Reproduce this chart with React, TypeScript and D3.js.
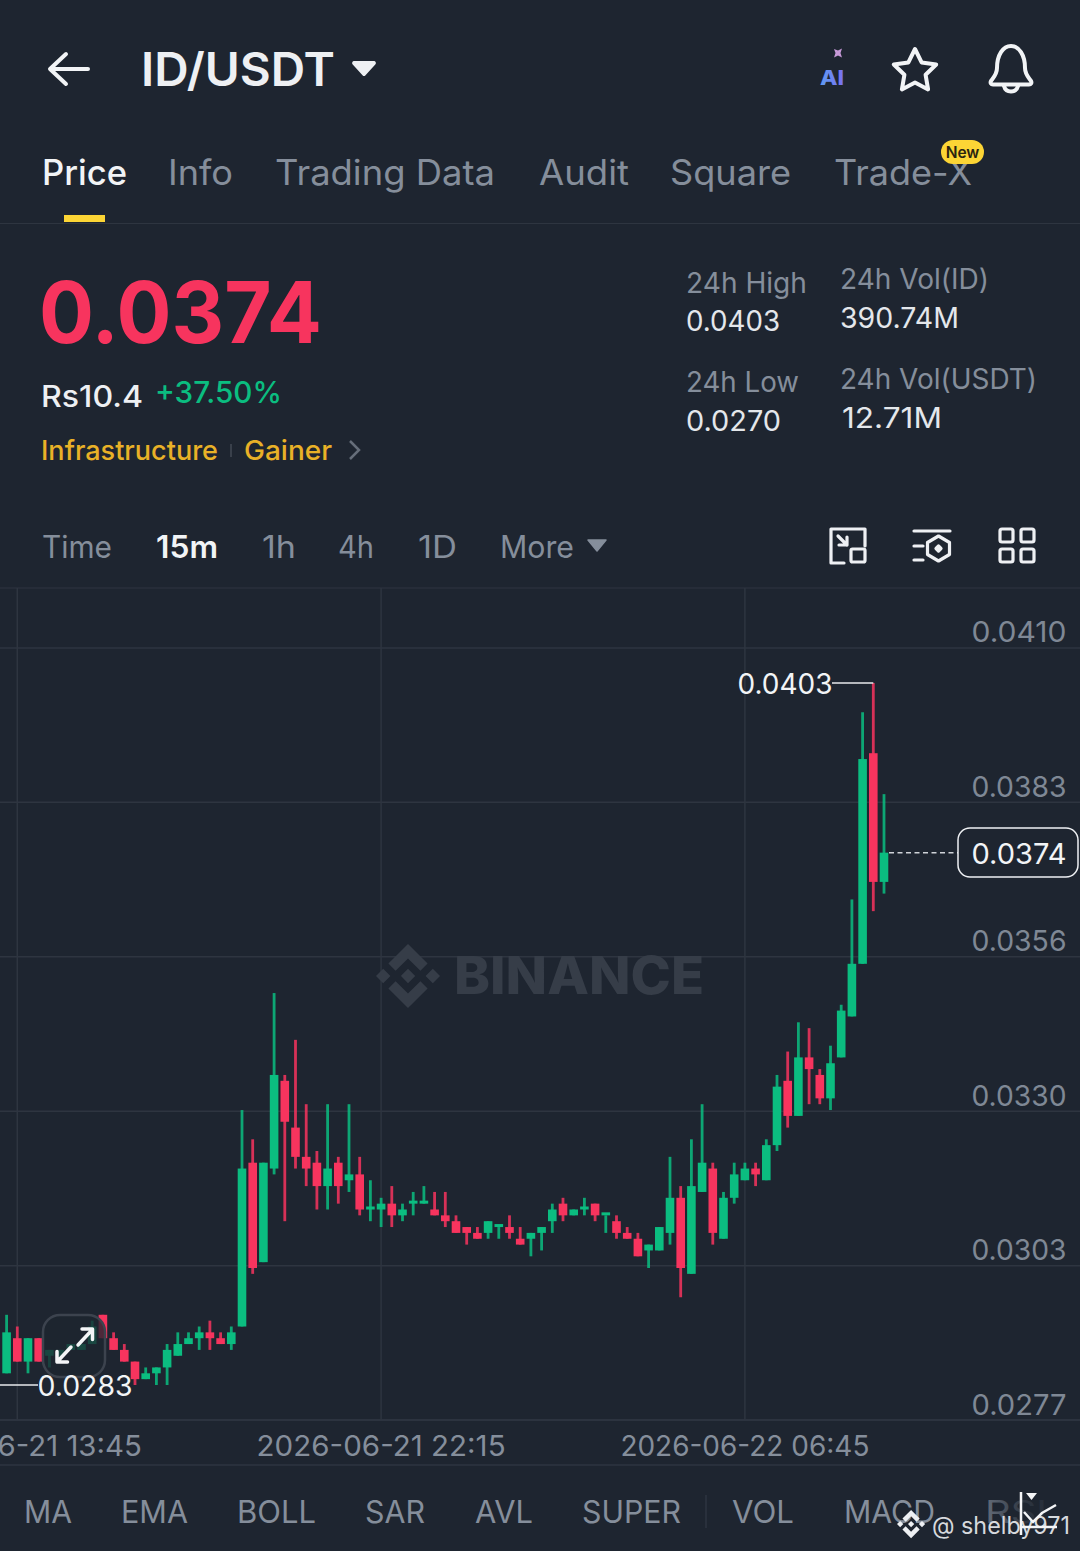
import * as d3 from "d3";

// 15m candles, oldest first. Every price reads to four decimals on the chart
const opens = [
  0.0285, 0.0291, 0.0287, 0.0291, 0.0288, 0.0288, 0.0289, 0.0289, 0.029, 0.0295, 0.0291, 0.0289, 0.0287, 0.0284,
  0.0285, 0.0286, 0.0288, 0.029, 0.0291, 0.0292, 0.0291, 0.029, 0.0293, 0.0321, 0.0304, 0.032, 0.0335, 0.0327,
  0.0322, 0.0321, 0.0317, 0.0321, 0.0318, 0.0319, 0.0313, 0.0313, 0.0314, 0.0312, 0.0314, 0.0314, 0.0313, 0.0312,
  0.0311, 0.031, 0.0309, 0.0309, 0.031, 0.031, 0.0308, 0.0308, 0.0309, 0.0311, 0.0314, 0.0312, 0.0313, 0.0314,
  0.0312, 0.0311, 0.0309, 0.0308, 0.0306, 0.0306, 0.0309, 0.0315, 0.0302, 0.0316, 0.032, 0.0308, 0.0315, 0.0318,
  0.032, 0.0318, 0.0324, 0.0335, 0.0329, 0.0339, 0.0336, 0.0332, 0.0339, 0.0346, 0.0355, 0.0391, 0.0369,
];
const highs = [
  0.0295, 0.0293, 0.0291, 0.0291, 0.0289, 0.0289, 0.029, 0.029, 0.0294, 0.0295, 0.0292, 0.029, 0.0287, 0.0286,
  0.0286, 0.029, 0.0292, 0.0292, 0.0293, 0.0294, 0.0292, 0.0293, 0.033, 0.0325, 0.0321, 0.035, 0.0336, 0.0342,
  0.0331, 0.0323, 0.0331, 0.0322, 0.0331, 0.0322, 0.0318, 0.0315, 0.0317, 0.0314, 0.0316, 0.0317, 0.0316, 0.0316,
  0.0312, 0.031, 0.031, 0.0311, 0.031, 0.0312, 0.031, 0.0309, 0.031, 0.0314, 0.0315, 0.0313, 0.0315, 0.0314,
  0.0312, 0.0312, 0.031, 0.0309, 0.0307, 0.031, 0.0322, 0.0317, 0.0325, 0.0331, 0.0321, 0.0316, 0.0321, 0.0321,
  0.0321, 0.0325, 0.0336, 0.034, 0.0345, 0.0344, 0.0337, 0.0341, 0.0348, 0.0366, 0.0398, 0.0403, 0.0384,
];
const lows = [
  0.0285, 0.0287, 0.0285, 0.0287, 0.0286, 0.0287, 0.0289, 0.0289, 0.029, 0.0291, 0.0289, 0.0287, 0.0283, 0.0284,
  0.0283, 0.0283, 0.0288, 0.029, 0.0289, 0.0289, 0.029, 0.0289, 0.0293, 0.0302, 0.0304, 0.0319, 0.0311, 0.032,
  0.0317, 0.0313, 0.0313, 0.0314, 0.0316, 0.0312, 0.0311, 0.031, 0.031, 0.0311, 0.0312, 0.0314, 0.0312, 0.031,
  0.0309, 0.0307, 0.0308, 0.0308, 0.0308, 0.0308, 0.0307, 0.0305, 0.0306, 0.0309, 0.0311, 0.0312, 0.0312, 0.0311,
  0.0309, 0.0308, 0.0308, 0.0305, 0.0303, 0.0306, 0.0307, 0.0298, 0.0302, 0.0316, 0.0307, 0.0308, 0.0314, 0.0318,
  0.0317, 0.0318, 0.0323, 0.0327, 0.0329, 0.0331, 0.0331, 0.033, 0.0339, 0.0346, 0.0355, 0.0364, 0.0367,
];
const closes = [
  0.0292, 0.0287, 0.0291, 0.0287, 0.0289, 0.0289, 0.029, 0.029, 0.0293, 0.0291, 0.0289, 0.0287, 0.0284, 0.0285,
  0.0286, 0.0289, 0.029, 0.0291, 0.0292, 0.0291, 0.029, 0.0292, 0.032, 0.0303, 0.0321, 0.0336, 0.0328, 0.0322,
  0.032, 0.0317, 0.032, 0.0317, 0.0319, 0.0313, 0.0313, 0.0314, 0.0312, 0.0313, 0.0314, 0.0314, 0.0312, 0.0311,
  0.0309, 0.0309, 0.0308, 0.0311, 0.031, 0.0309, 0.0307, 0.0309, 0.031, 0.0313, 0.0312, 0.0313, 0.0313, 0.0312,
  0.0312, 0.0309, 0.0308, 0.0305, 0.0307, 0.031, 0.0315, 0.0303, 0.0317, 0.0321, 0.0309, 0.0315, 0.0319, 0.032,
  0.0319, 0.0324, 0.0334, 0.0329, 0.0339, 0.0337, 0.0332, 0.0338, 0.0347, 0.0355, 0.039, 0.0369, 0.0374,
];

const priceTicks = [0.0277, 0.03034, 0.03298, 0.03562, 0.03826, 0.0409];
const priceLabels = ["0.0277", "0.0303", "0.0330", "0.0356", "0.0383", "0.0410"];
const timeIndexes = [1, 35, 69];
const timeLabels = ["2026-06-21 13:45", "2026-06-21 22:15", "2026-06-22 06:45"];

const tabs = ["Price", "Info", "Trading Data", "Audit", "Square", "Trade-X"];
const intervals = ["Time", "15m", "1h", "4h", "1D", "More"];
const indicators = ["MA", "EMA", "BOLL", "SAR", "AVL", "SUPER", "VOL", "MACD", "RSI"];

// layout of the text rows, [left, width]
const tabBoxes = [[42, 85], [168, 65], [275, 220], [539, 90], [670, 121], [834, 138]];
const intervalBoxes = [[42, 70], [156, 62], [262, 34], [338, 36], [418, 39], [500, 74]];
const indicatorBoxes = [[24, 48], [121, 67], [237, 79], [365, 60], [475, 58], [582, 99], [732, 62], [844, 91], [985, 62]];

const lastPrice = 0.0374;
const highMark = 0.0403;
const lowMark = 0.0283;

const BG = "#1e2530";
const GRID = "#2e3540";
const GRAY = "#858e9b";
const AXIS = "#7f8895";
const GREEN = "#0bbd80";
const RED = "#f7345e";
const YELLOW = "#fcd535";
const FONT = "Inter, 'Noto Sans', sans-serif";

const CHART_TOP = 588;
const CHART_BOTTOM = 1420;

const LOGO =
  "M9.8 13.4 16 7.2l6.2 6.2 3.6-3.6L16 0 6.2 9.8zM0 16l3.6-3.6L7.2 16l-3.6 3.6zM9.8 18.6 16 24.8l6.2-6.2 3.6 3.6L16 32l-9.8-9.8zM24.8 16l3.6-3.6L32 16l-3.6 3.6zM19.6 16 16 12.4 13.4 15l-.3.3-.6.7L16 19.6z";

const x = d3.scaleLinear().domain([0, 82]).range([6.6, 884]);
const y = d3.scaleLinear().domain([0.0283, 0.0403]).range([1385, 683]);

const BODY_W = 8.6;
const WICK_W = 2.8;

function Candles() {
  return (
    <g>
      {opens.map((open, i) => {
        const close = closes[i];
        const up = close >= open;
        const color = up ? GREEN : RED;
        const yTop = y(Math.max(open, close));
        const yBot = y(Math.min(open, close));
        const h = Math.max(yBot - yTop, 3);
        return (
          <g key={i} fill={color}>
            <rect x={x(i) - WICK_W / 2} y={y(highs[i])} width={WICK_W} height={y(lows[i]) - y(highs[i])} opacity={0.85} />
            <rect x={x(i) - BODY_W / 2} y={yBot - h} width={BODY_W} height={h} />
          </g>
        );
      })}
    </g>
  );
}

function Txt({ x, y, size, fill, weight, anchor, children, width, opacity }: any) {
  return (
    <text
      x={x}
      y={y}
      fontSize={size}
      fill={fill}
      fillOpacity={opacity}
      fontWeight={weight ?? 400}
      textAnchor={anchor ?? "start"}
      textLength={width}
      lengthAdjust={width ? "spacingAndGlyphs" : undefined}
    >
      {children}
    </text>
  );
}

function Header() {
  return (
    <g>
      <defs>
        <linearGradient id="aiFill" x1="0" x2="1" y1="0" y2="0">
          <stop offset="0" stopColor="#5f9bf2" />
          <stop offset="1" stopColor="#7a70ef" />
        </linearGradient>
      </defs>
      <path d="M88 69H51M66 54 50 69l16 15" fill="none" stroke="#f2f4f6" strokeWidth={4} strokeLinecap="round" strokeLinejoin="round" />
      <Txt x={141} y={86} size={46} fill="#eef0f3" weight={600} width={194}>ID/USDT</Txt>
      <path d="M354 61h20a2 2 0 0 1 1.5 3.2l-10 11a2 2 0 0 1-3 0l-10-11A2 2 0 0 1 354 61z" fill="#eef0f3" />
      {/* AI badge */}
      <path d="M834 49l4 1.5 4-2-1.5 4.5 1.5 4.5-4-2-4 2 1.5-4.5z" fill="#c79ad8" />
      <Txt x={820} y={85} size={20} weight={800} fill="url(#aiFill)" width={24}>AI</Txt>
      {/* star */}
      <path
        d="M915 49l6.6 13.4 14.6 2.1-10.6 10.3 2.5 14.6-13.1-6.9-13.1 6.9 2.5-14.6-10.6-10.3 14.6-2.1z"
        fill="none"
        stroke="#f2f4f6"
        strokeWidth={4}
        strokeLinejoin="round"
      />
      {/* bell */}
      <path
        d="M997 68c0-13 6-22 14-22s14 9 14 22c0 6 3 9 6 13 1 2 0 3.500-2 3.500h-36c-2 0-3-1.500-2-3.500 3-4 6-7 6-13z"
        fill="none"
        stroke="#f2f4f6"
        strokeWidth={4}
        strokeLinejoin="round"
      />
      <path d="M1004 86c1 4 3.500 5.500 7 5.500s6-1.500 7-5.500" fill="none" stroke="#f2f4f6" strokeWidth={4} strokeLinecap="round" />
      {tabs.map((t, i) => (
        <Txt
          key={t}
          x={tabBoxes[i][0]}
          y={184.500}
          size={35}
          fill={i === 0 ? "#f2f4f6" : GRAY}
          weight={i === 0 ? 500 : 400}
          width={tabBoxes[i][1]}
        >
          {t}
        </Txt>
      ))}
      <rect x={64} y={215} width={41} height={7} fill={YELLOW} />
      <line x1={0} x2={1080} y1={223.5} y2={223.5} stroke={GRID} />
      <rect x={941} y={140} width={43} height={24} rx={12} fill={YELLOW} />
      <text x={962.5} y={158} fontSize={15.5} fontWeight={600} textAnchor="middle" fill="#2a2410">New</text>
    </g>
  );
}

function Summary() {
  return (
    <g>
      <Txt x={39} y={343} size={85} fill={RED} weight={700} width={283}>0.0374</Txt>
      <Txt x={41} y={407} size={30} fill="#eef0f3" weight={500} width={102}>Rs10.4</Txt>
      <Txt x={155} y={403} size={30} fill={GREEN} weight={500} width={127}>+37.50%</Txt>
      <Txt x={41} y={460} size={27.5} fill="#e9b127" weight={500} width={177}>Infrastructure</Txt>
      <line x1={231} x2={231} y1={444} y2={457} stroke="#39404b" strokeWidth={2} />
      <Txt x={244} y={460} size={27.5} fill="#e9b127" weight={500} width={88}>Gainer</Txt>
      <path d="M350 441l9 9-9 9" fill="none" stroke="#666e7a" strokeWidth={2.5} />
      <Txt x={686} y={293} size={28} fill={GRAY} width={121}>24h High</Txt>
      <Txt x={686} y={331} size={28} fill="#e4e7eb" width={94}>0.0403</Txt>
      <Txt x={840} y={289} size={28} fill={GRAY} width={149}>24h Vol(ID)</Txt>
      <Txt x={840} y={328} size={28} fill="#e4e7eb" width={119}>390.74M</Txt>
      <Txt x={686} y={392} size={28} fill={GRAY} width={113}>24h Low</Txt>
      <Txt x={686} y={431} size={28} fill="#e4e7eb" width={95}>0.0270</Txt>
      <Txt x={840} y={389} size={28} fill={GRAY} width={197}>24h Vol(USDT)</Txt>
      <Txt x={842} y={428} size={28} fill="#e4e7eb" width={100}>12.71M</Txt>
    </g>
  );
}

function Toolbar() {
  return (
    <g>
      {intervals.map((t, i) => (
        <Txt
          key={t}
          x={intervalBoxes[i][0]}
          y={558}
          size={31}
          fill={i === 1 ? "#f2f4f6" : GRAY}
          weight={i === 1 ? 600 : 400}
          width={intervalBoxes[i][1]}
        >
          {t}
        </Txt>
      ))}
      <path d="M588 540h18l-9 11z" fill={GRAY} stroke={GRAY} strokeWidth={1.5} strokeLinejoin="round" />
      <g fill="none" stroke="#eef0f3" strokeWidth={3.2} strokeLinejoin="round" strokeLinecap="round">
        <path d="M844 563h-13v-34h34v17" />
        <rect x={851} y={549} width={14} height={13} rx={1.5} />
        <path d="M838 536l9 9M847 537v8h-8" />
        <path d="M914 531h36M914 546h9M914 560h9" />
        <path d="M938.500 536l11 6.500v12l-11 6.500-11-6.500v-12z" />
        <path d="M938.500 546l2.500 2.500-2.500 2.500-2.500-2.500z" fill="#eef0f3" />
        <rect x={1000} y={529} width={13} height={13} rx={2} />
        <rect x={1021} y={529} width={13} height={13} rx={2} />
        <rect x={1000} y={549} width={13} height={13} rx={2} />
        <rect x={1021} y={549} width={13} height={13} rx={2} />
      </g>
      <line x1={0} x2={1080} y1={CHART_TOP} y2={CHART_TOP} stroke={GRID} />
    </g>
  );
}

function Chart() {
  const lastY = y(lastPrice);
  const highY = y(highMark);
  const lowY = y(lowMark);
  const highIdx = highs.indexOf(highMark);
  return (
    <g>
      {priceTicks.map((p) => (
        <line key={p} x1={0} x2={1080} y1={y(p)} y2={y(p)} stroke={GRID} strokeWidth={1.5} />
      ))}
      {timeIndexes.map((i) => (
        <line key={i} x1={x(i)} x2={x(i)} y1={CHART_TOP} y2={CHART_BOTTOM} stroke={GRID} strokeWidth={1.5} />
      ))}
      {priceLabels.map((l, i) => (
        <Txt key={l} x={971.5} y={y(priceTicks[i]) - 5.5} size={29} fill={AXIS} width={95}>
          {l}
        </Txt>
      ))}
      {/* watermark */}
      <path d={LOGO} transform="translate(376 944) scale(2)" fill="#363d48" />
      <Txt x={454} y={994} size={52} fill="#363d48" weight={800} width={250}>BINANCE</Txt>
      <Candles />
      {/* high and low marks */}
      <line x1={832} x2={x(highIdx)} y1={highY} y2={highY} stroke="#e8eaed" strokeWidth={1.5} />
      <Txt x={737.5} y={694} size={29} fill="#f2f4f6" width={95}>0.0403</Txt>
      <line x1={0} x2={38} y1={lowY} y2={lowY} stroke="#e8eaed" strokeWidth={1.5} />
      {/* last price */}
      <line x1={889} x2={958} y1={lastY} y2={lastY} stroke="#cfd3d8" strokeWidth={1.5} strokeDasharray="5 3.5" />
      <rect x={958} y={828} width={120} height={49} rx={12} fill={BG} stroke="#eef0f3" strokeWidth={1.5} />
      <Txt x={971.5} y={864} size={29} fill="#f2f4f6" width={95}>0.0374</Txt>
      {/* expand button */}
      <rect x={43} y={1315} width={62} height={62} rx={17} fill={BG} fillOpacity={0.78} stroke="#3c434e" strokeWidth={2.5} />
      <g fill="none" stroke="#f4f5f7" strokeWidth={3.5} strokeLinecap="round" strokeLinejoin="round">
        <path d="M78 1345l14-15M82 1329h10.5v10.5M71 1347l-14 15M57 1351.5V1362h10.5" />
      </g>
      <Txt x={37.5} y={1396} size={29} fill="#f2f4f6" width={95}>0.0283</Txt>
      <line x1={0} x2={1080} y1={CHART_BOTTOM} y2={CHART_BOTTOM} stroke={GRID} strokeWidth={1.5} />
    </g>
  );
}

function Footer() {
  return (
    <g>
      <defs>
        <linearGradient id="rowFade" x1="0" x2="1" y1="0" y2="0">
          <stop offset="0" stopColor={BG} stopOpacity={0.25} />
          <stop offset="0.45" stopColor={BG} stopOpacity={0.85} />
          <stop offset="1" stopColor={BG} stopOpacity={1} />
        </linearGradient>
      </defs>
      {timeLabels.map((l, i) => (
        <Txt key={l} x={x(timeIndexes[i]) - 124.5} y={1456} size={29} fill={GRAY} width={249}>
          {l}
        </Txt>
      ))}
      <line x1={0} x2={1080} y1={1465} y2={1465} stroke={GRID} strokeWidth={1.5} />
      {indicators.map((l, i) => (
        <Txt key={l} x={indicatorBoxes[i][0]} y={1523} size={31} fill={GRAY} width={indicatorBoxes[i][1]}>
          {l}
        </Txt>
      ))}
      <line x1={706} x2={706} y1={1495} y2={1528} stroke={GRID} strokeWidth={1.5} />
      {/* the row fades out under the right edge */}
      <rect x={980} y={1490} width={100} height={45} fill="url(#rowFade)" />
      {/* repost watermark, sits over the indicator row */}
      <path d={LOGO} transform="translate(897 1510) scale(0.88)" fill="#eef0f3" />
      <Txt x={932} y={1534} size={24} fill="#d6d9dd" width={138}>@ shelby971</Txt>
      <g fill="none" stroke="#f4f5f7" strokeWidth={2.5}>
        <path d="M1021 1492v43M1021 1527h36M1024 1512l9 10 9-9 14-8" />
      </g>
      <path d="M1026 1493h11l-5.500 7z" fill="#f4f5f7" />
    </g>
  );
}

export default function App() {
  return (
    <svg
      width={1080}
      height={1551}
      viewBox="0 0 1080 1551"
      style={{ position: "absolute", left: 0, top: 0, background: BG, fontFamily: FONT }}
    >
      <rect width={1080} height={1551} fill={BG} />
      <Header />
      <Summary />
      <Toolbar />
      <Chart />
      <Footer />
    </svg>
  );
}
